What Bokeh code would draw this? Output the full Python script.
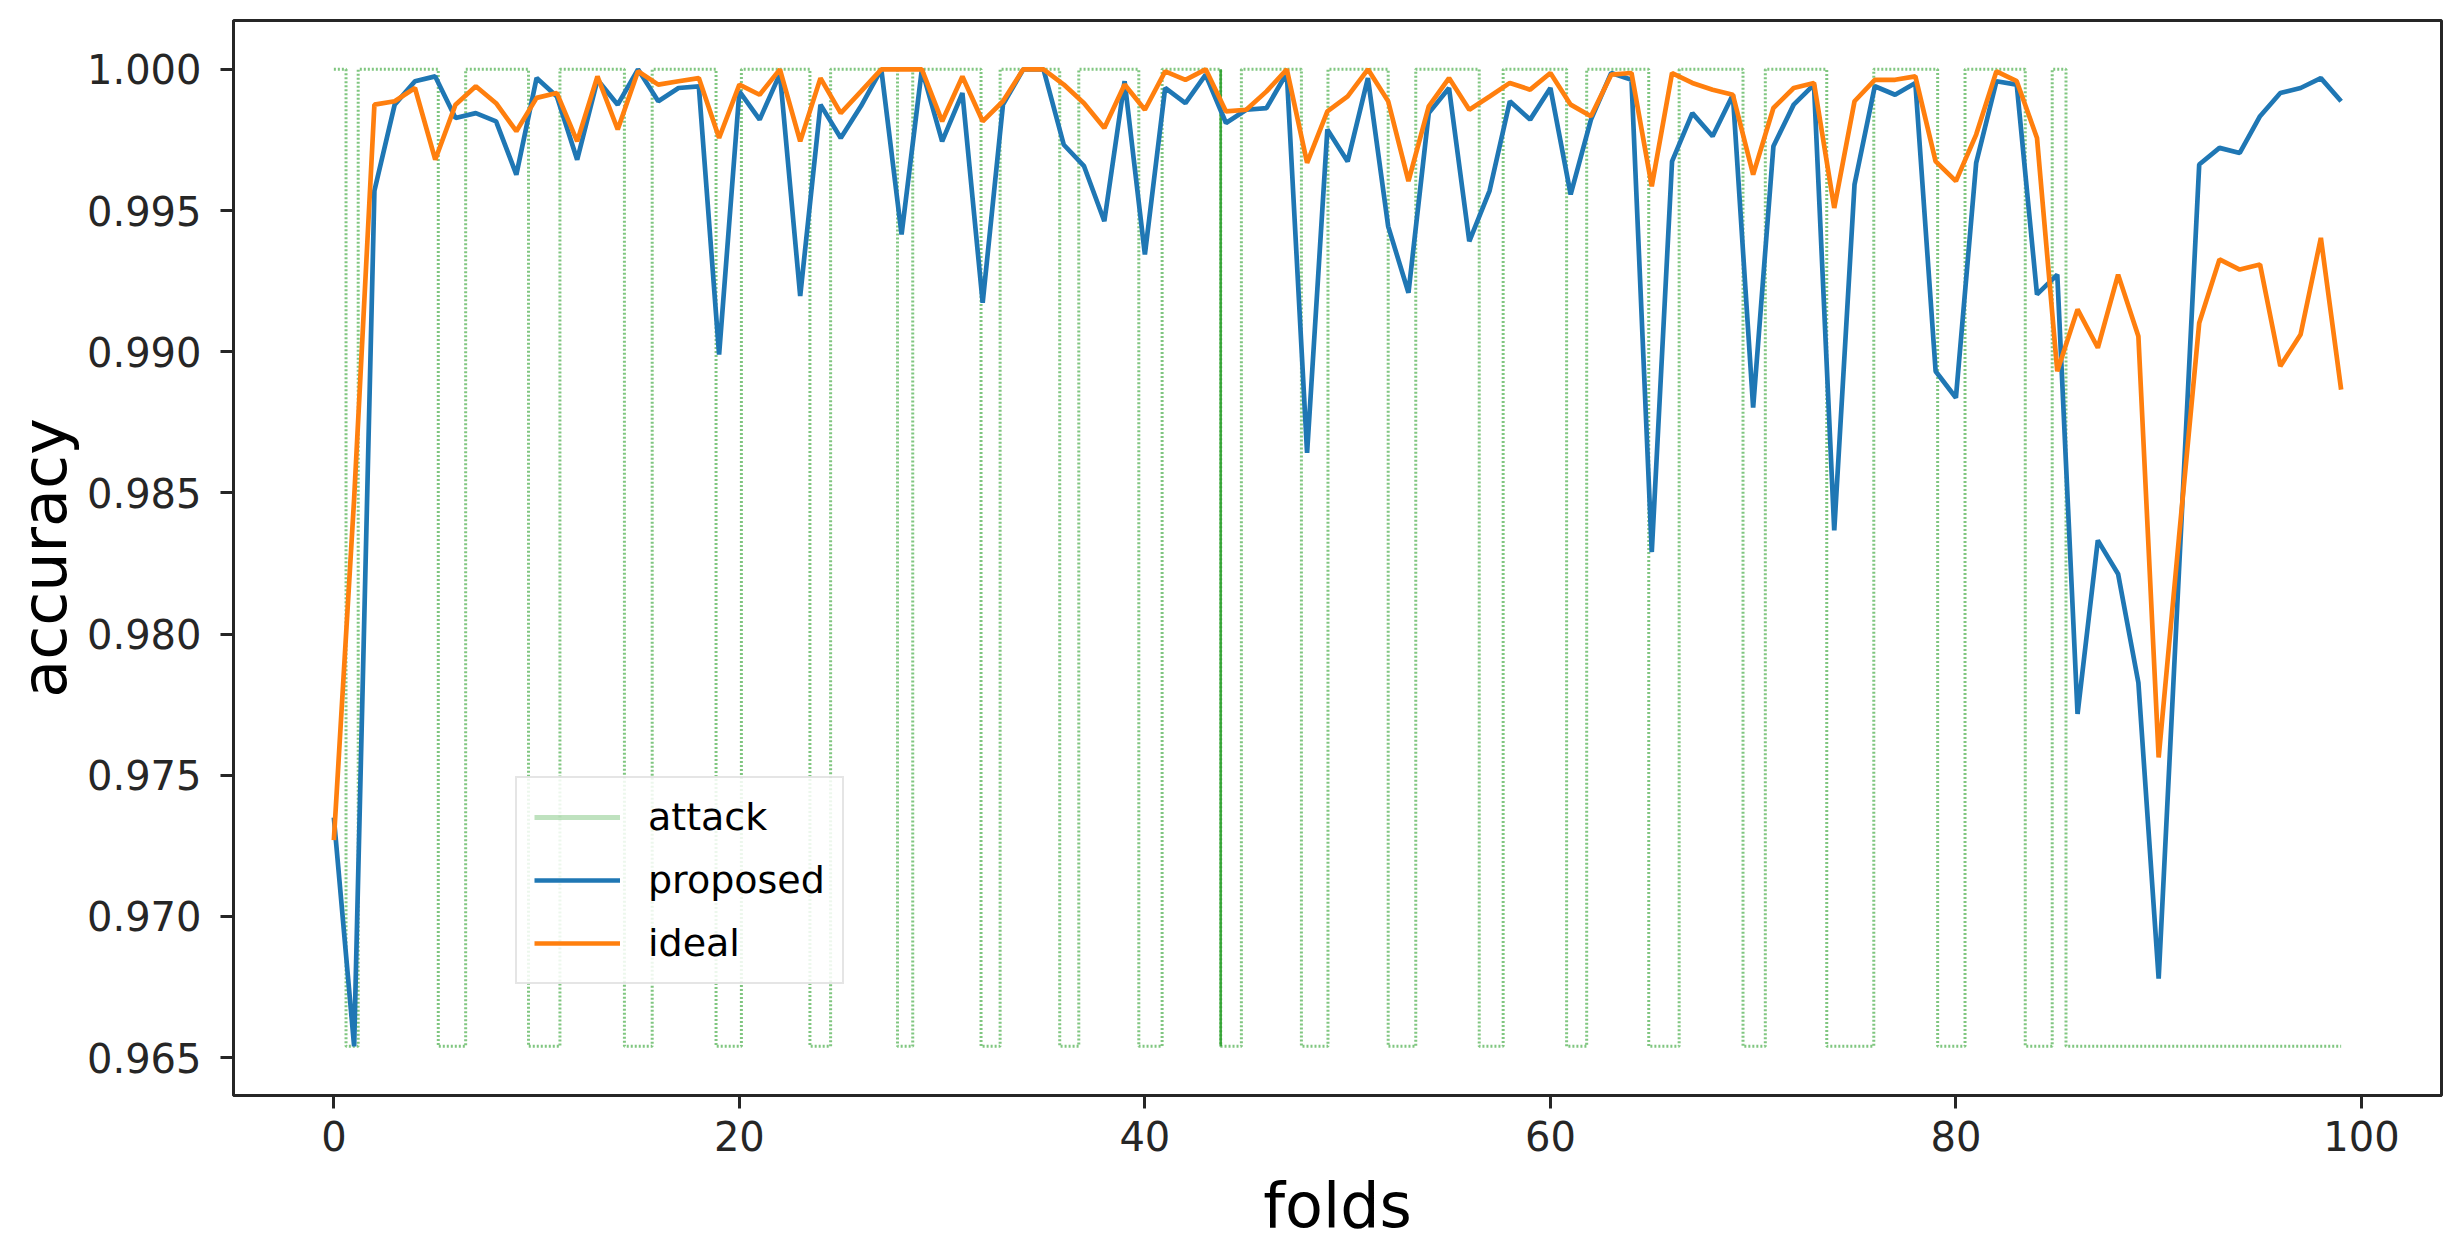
from bokeh.plotting import figure
from bokeh.models import Range1d, FixedTicker, NumeralTickFormatter, Legend, LegendItem
from bokeh.embed import file_html
from bokeh.resources import INLINE

folds = list(range(100))

proposed = [
    0.9735, 0.9654, 0.9957, 0.99875, 0.99958, 0.99975, 0.99828, 0.99845, 0.99816, 0.99627,
    0.99969, 0.99904, 0.99680, 0.99963, 0.99875, 1.00000, 0.99887, 0.99934, 0.99940, 0.98990,
    0.99922, 0.99822, 0.99984, 0.99197, 0.99875, 0.99757, 0.99870, 1.00000, 0.99415, 1.00000,
    0.99745, 0.99916, 0.99173, 0.99875, 1.00000, 1.00000, 0.99733, 0.99657, 0.99462, 0.99958,
    0.99344, 0.99934, 0.99880, 0.99981, 0.99810, 0.99857, 0.99863, 0.99987, 0.98642, 0.99787,
    0.99674, 0.99969, 0.99444, 0.99209, 0.99845, 0.99934, 0.99391, 0.99570, 0.99887, 0.99822,
    0.99934, 0.99557, 0.99822, 0.99987, 0.99963, 0.98290, 0.99674, 0.99845, 0.99763, 0.99910,
    0.98802, 0.99728, 0.99875, 0.99946, 0.98367, 0.99592, 0.99940, 0.99910, 0.99952, 0.98931,
    0.98837, 0.99669, 0.99958, 0.99946, 0.99203, 0.99273, 0.97717, 0.98332, 0.98213, 0.97828,
    0.96780, 0.98220, 0.99663, 0.99722, 0.99704, 0.99834, 0.99916, 0.99934, 0.99969, 0.99887,
]

ideal = [
    0.9727, 0.9848, 0.99875, 0.99887, 0.99934, 0.99680, 0.99875, 0.99940, 0.99880, 0.99781,
    0.99899, 0.99916, 0.99745, 0.99975, 0.99787, 0.99993, 0.99946, 0.99958, 0.99969, 0.99757,
    0.99946, 0.99910, 1.00000, 0.99745, 0.99969, 0.99845, 0.99922, 1.00000, 1.00000, 1.00000,
    0.99816, 0.99975, 0.99816, 0.99887, 1.00000, 1.00000, 0.99946, 0.99880, 0.99792, 0.99946,
    0.99857, 0.99993, 0.99963, 1.00000, 0.99851, 0.99857, 0.99922, 1.00000, 0.99669, 0.99851,
    0.99904, 1.00000, 0.99887, 0.99604, 0.99869, 0.99969, 0.99857, 0.99904, 0.99952, 0.99928,
    0.99987, 0.99875, 0.99834, 0.99981, 0.99987, 0.99586, 0.99987, 0.99952, 0.99928, 0.99910,
    0.99627, 0.99863, 0.99934, 0.99952, 0.99509, 0.99887, 0.99963, 0.99963, 0.99975, 0.99674,
    0.99604, 0.99769, 0.99993, 0.99958, 0.99757, 0.98931, 0.99150, 0.99014, 0.99273, 0.99055,
    0.97563, 0.98340, 0.99102, 0.99327, 0.99291, 0.99309, 0.98949, 0.99061, 0.99403, 0.98866,
]

# attack indicator: start / end of every "low" interval (fold units)
attack_low_start = [0.6, 5.15, 9.6, 14.33, 18.85, 23.48, 27.8, 31.92, 35.8, 39.7, 43.74,
                    47.72, 52.0, 56.49, 60.8, 64.85, 69.5, 73.63, 79.1, 83.42, 85.43]
attack_low_end = [1.2, 6.5, 11.15, 15.7, 20.1, 24.5, 28.55, 32.86, 36.74, 40.85, 44.76,
                  49.03, 53.36, 57.67, 61.79, 66.35, 70.6, 75.95, 80.45, 84.75, 99.0]
attack_high = 1.0
attack_low = 0.9654
attack_burst = [43.74]

x_ticks = [0, 20, 40, 60, 80, 100]
y_ticks = [0.965, 0.970, 0.975, 0.980, 0.985, 0.990, 0.995, 1.000]

# build the step path of the attack indicator
ax_, ay_ = [folds[0]], [attack_high]
for s, e in zip(attack_low_start, attack_low_end):
    ax_ += [s, s, e]
    ay_ += [attack_high, attack_low, attack_low]
    if e < folds[-1]:
        ax_.append(e)
        ay_.append(attack_high)

FONT = "DejaVu Sans"
INK = "#262626"

p = figure(width=2462, height=1244,
           x_range=Range1d(-4.95, 103.95), y_range=Range1d(0.96366, 1.00173),
           output_backend="svg", toolbar_location=None,
           min_border_left=233, min_border_right=21, min_border_top=20, min_border_bottom=147)
p.xgrid.visible = False
p.ygrid.visible = False
p.outline_line_color = INK
p.outline_line_width = 3
p.outline_line_alpha = 1.0

att = p.line(ax_, ay_, line_color="#2ca02c", line_alpha=0.6, line_width=3, line_dash="2 2")
p.segment(x0=attack_burst, y0=[attack_low] * len(attack_burst),
          x1=attack_burst, y1=[attack_high] * len(attack_burst),
          line_color="#2ca02c", line_alpha=0.9, line_width=2.5)
att_key = p.line([float("nan")], [float("nan")], line_color="#2ca02c", line_alpha=0.3, line_width=5)
blue = p.line(folds, proposed, line_color="#1f77b4", line_width=4.7)
orange = p.line(folds, ideal, line_color="#ff7f0e", line_width=4.7)

legend = Legend(items=[LegendItem(label="attack", renderers=[att_key]),
                       LegendItem(label="proposed", renderers=[blue]),
                       LegendItem(label="ideal", renderers=[orange])],
                location=(282, 111))
legend.label_text_font = FONT
legend.label_text_font_size = "38px"
legend.label_text_color = "black"
legend.glyph_width = 86
legend.glyph_height = 40
legend.label_height = 40
legend.spacing = 19
legend.padding = 17
legend.label_standoff = 28
legend.margin = 0
legend.border_line_color = "#cccccc"
legend.border_line_width = 2
legend.background_fill_alpha = 0.85
p.add_layout(legend)

p.xaxis.ticker = FixedTicker(ticks=x_ticks)
p.yaxis.ticker = FixedTicker(ticks=y_ticks)
p.yaxis.formatter = NumeralTickFormatter(format="0.000")
p.xaxis.axis_label = "folds"
p.yaxis.axis_label = "accuracy"

for a in (p.xaxis[0], p.yaxis[0]):
    a.major_label_text_font = FONT
    a.major_label_text_font_size = "40px"
    a.major_label_text_color = INK
    a.major_tick_in = 0
    a.major_tick_out = 13
    a.major_tick_line_width = 3
    a.major_tick_line_color = INK
    a.minor_tick_line_color = None
    a.axis_line_width = 3
    a.axis_line_color = INK
    a.axis_label_text_font = FONT
    a.axis_label_text_font_size = "62px"
    a.axis_label_text_font_style = "normal"
    a.axis_label_text_color = "black"

p.xaxis.major_label_standoff = 12
p.yaxis.major_label_standoff = 19
p.xaxis.axis_label_standoff = 15
p.yaxis.axis_label_standoff = 3

open("out.html", "w").write(file_html(p, INLINE))
